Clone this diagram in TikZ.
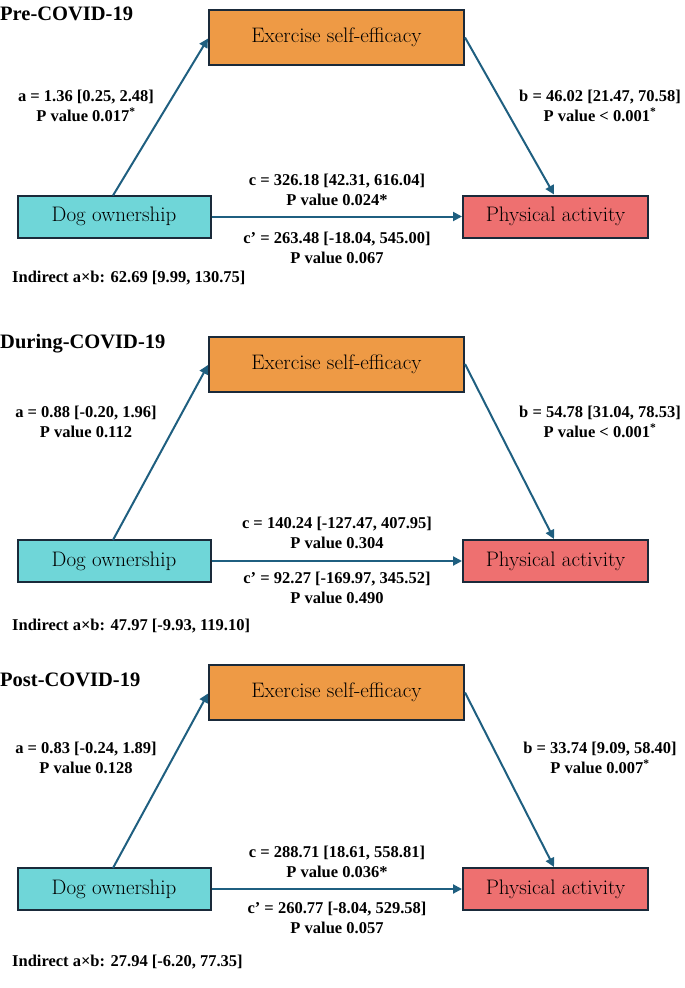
\documentclass[tikz,border=0pt]{standalone}
\usepackage{fontspec}
\setmainfont{Liberation Serif}
\newfontfamily\boxfont{Latin Modern Roman}
\usetikzlibrary{arrows.meta}
\definecolor{arr}{HTML}{1F5F80}
\definecolor{orb}{HTML}{EE9A45}
\definecolor{tlb}{HTML}{6FD6D8}
\definecolor{rdb}{HTML}{EE7070}
\definecolor{bdr}{HTML}{1A2A3A}
\tikzset{
  boxs/.style={draw=bdr,line width=2pt,inner sep=0pt,font=\boxfont\fontsize{21}{25}\selectfont},
  lbl/.style={font=\rmfamily\bfseries\fontsize{16.5}{20}\selectfont,align=center,inner sep=0pt},
  ttl/.style={font=\rmfamily\bfseries\fontsize{20.5}{24}\selectfont,anchor=west,inner sep=0pt},
  con/.style={draw=arr,line width=2pt,-{Triangle[length=9pt,width=9pt]}}
}
\newcommand\mpanel[8]{%
  \node[ttl] (#1t) at (0,#2) {\ttltext};
  \node[boxs,fill=orb,minimum width=255pt,minimum height=55pt] (#1o) at (336.5,#3) {Exercise self-efficacy};
  \node[boxs,fill=tlb,minimum width=193pt,minimum height=42pt] (#1d) at (114,#4) {Dog ownership};
  \node[boxs,fill=rdb,minimum width=185pt,minimum height=42pt] (#1r) at (555.5,#4) {Physical activity};
  \coordinate (#1as) at (113,#4-21);
  \coordinate (#1ae) at (208,#3+1);
  \draw[con] (#1as) -- (#1ae);
  \coordinate (#1bs) at (465,#3);
  \draw[con] (#1bs) -- (#1r.north -| 554,0);
  \draw[con] (#1d.east) -- (#1r.west);
  \node[lbl] (#1la) at (86,#5) {\atext};
  \node[lbl] (#1lb) at (600,#5) {\btext};
  \node[lbl] (#1lc) at (337,#6) {\ctext};
  \node[lbl] (#1lp) at (337,#7) {\cptext};
  \node[lbl,anchor=west] (#1li) at (12,#8) {\itext};
}
\begin{document}
\begin{tikzpicture}[x=1pt,y=-1pt]
\useasboundingbox (0,0) rectangle (685,988);
\def\ttltext{Pre-COVID-19}
\def\atext{a = 1.36 [0.25, 2.48]\\P value 0.017\textsuperscript{*}}
\def\btext{b = 46.02 [21.47, 70.58]\\P value < 0.001\textsuperscript{*}}
\def\ctext{c = 326.18 [42.31, 616.04]\\P value 0.024*}
\def\cptext{c’ = 263.48 [-18.04, 545.00]\\P value 0.067}
\def\itext{Indirect a×b: 62.69 [9.99, 130.75]}
\mpanel{p}{14}{37.5}{216.5}{106}{190}{248}{278}
\def\ttltext{During-COVID-19}
\def\atext{a = 0.88 [-0.20, 1.96]\\P value 0.112}
\def\btext{b = 54.78 [31.04, 78.53]\\P value < 0.001\textsuperscript{*}}
\def\ctext{c = 140.24 [-127.47, 407.95]\\P value 0.304}
\def\cptext{c’ = 92.27 [-169.97, 345.52]\\P value 0.490}
\def\itext{Indirect a×b: 47.97 [-9.93, 119.10]}
\mpanel{d}{344}{364}{561}{422}{533}{588}{626}
\def\ttltext{Post-COVID-19}
\def\atext{a = 0.83 [-0.24, 1.89]\\P value 0.128}
\def\btext{b = 33.74 [9.09, 58.40]\\P value 0.007\textsuperscript{*}}
\def\ctext{c = 288.71 [18.61, 558.81]\\P value 0.036*}
\def\cptext{c’ = 260.77 [-8.04, 529.58]\\P value 0.057}
\def\itext{Indirect a×b: 27.94 [-6.20, 77.35]}
\mpanel{q}{680}{692.5}{889}{758}{862}{918}{962}
\end{tikzpicture}
\end{document}
